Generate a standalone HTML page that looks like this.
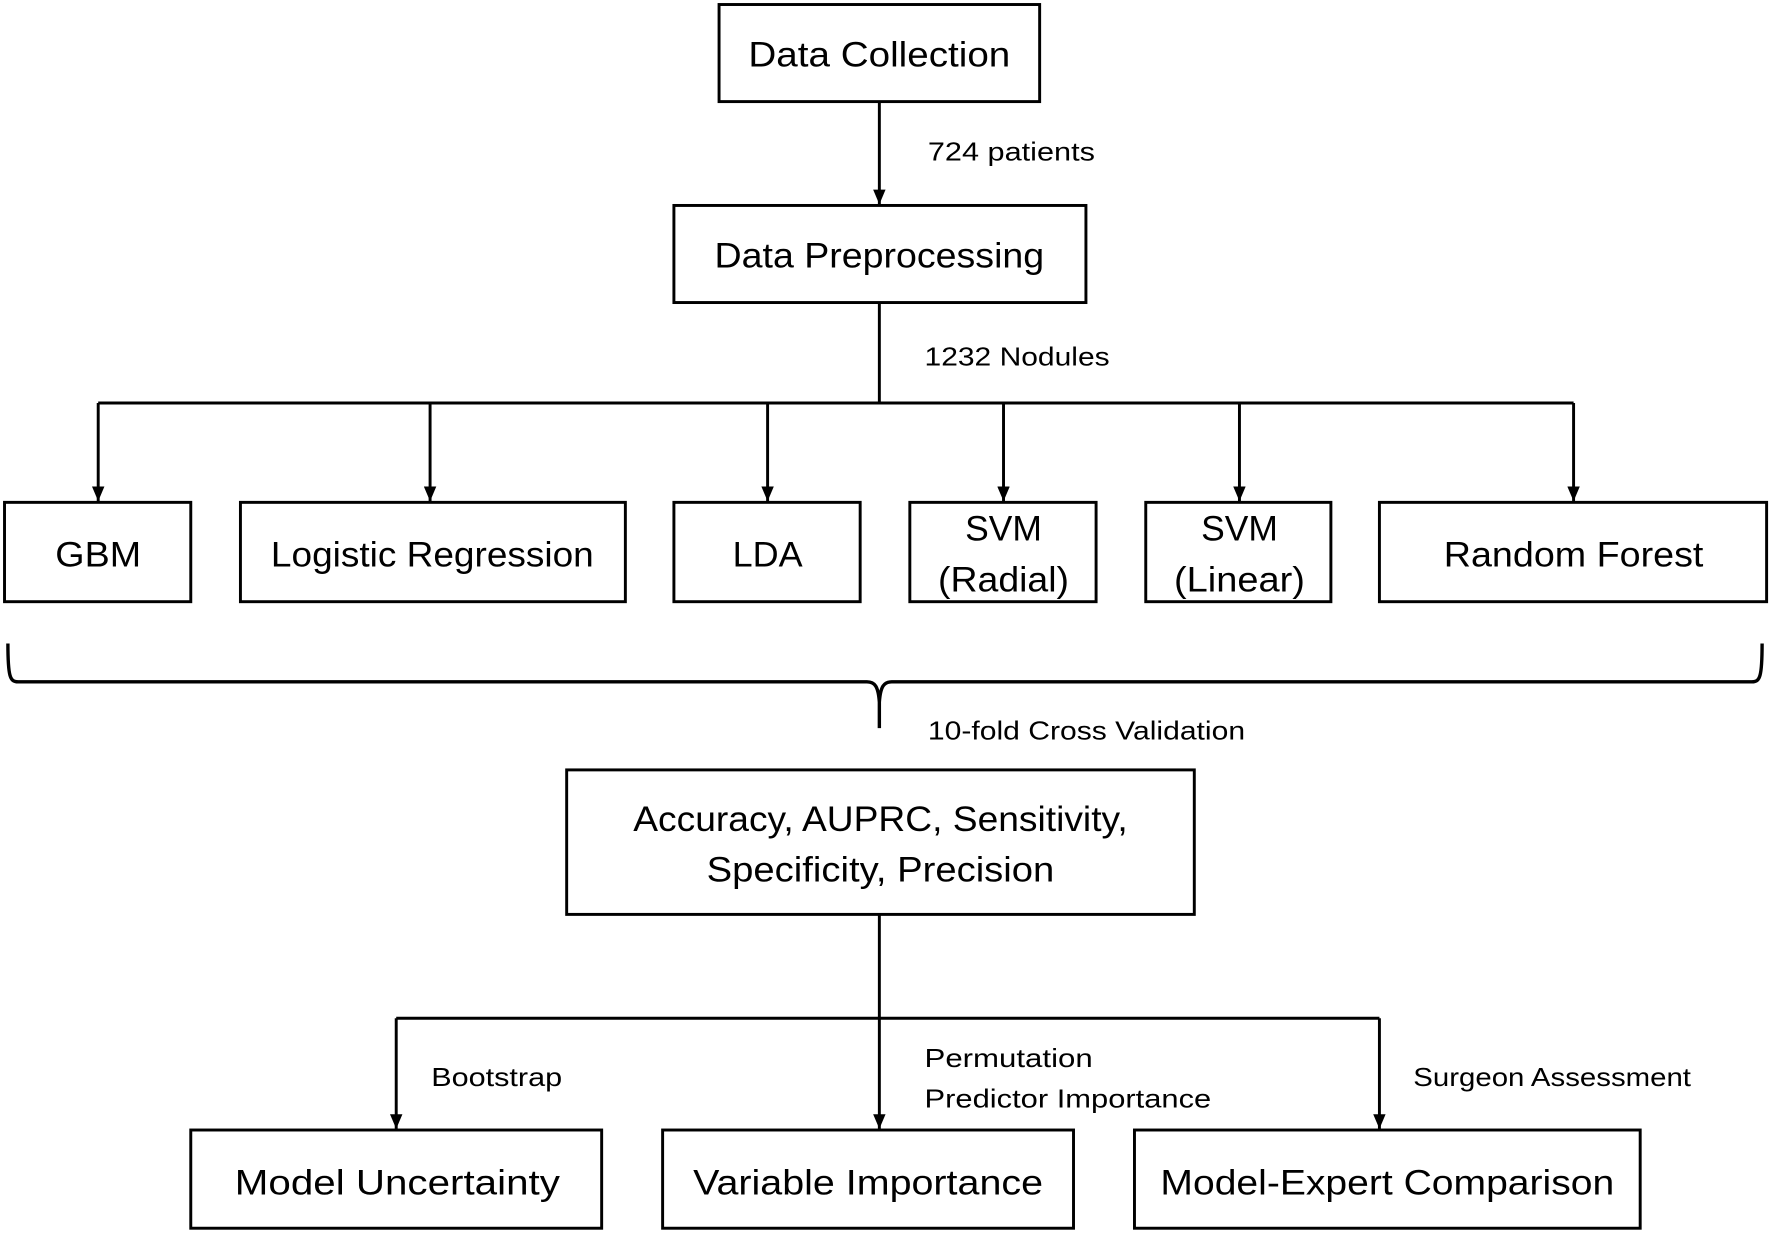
<!DOCTYPE html>
<html><head><meta charset="utf-8"><style>
html,body{margin:0;padding:0;background:#fff;width:1770px;height:1235px;overflow:hidden}
svg{display:block}
text{font-family:"Liberation Sans",sans-serif;fill:#000}
.b{font-size:31px}
.l{font-size:23px}
</style></head><body>
<svg width="1770" height="1235" viewBox="0 0 1568 1094" preserveAspectRatio="none" xmlns="http://www.w3.org/2000/svg">
<defs><marker id="a" markerWidth="13" markerHeight="11" refX="13" refY="5.5" orient="auto" markerUnits="userSpaceOnUse" viewBox="0 0 13 11"><path d="M0,0 L13,5.5 L0,11 z" fill="#000"/></marker></defs>
<g fill="none" stroke="#000" stroke-width="2.6">
<rect x="637" y="4" width="284" height="86"/>
<rect x="597" y="182" width="365" height="86"/>
<rect x="4" y="445" width="165" height="88"/>
<rect x="213" y="445" width="341" height="88"/>
<rect x="597" y="445" width="165" height="88"/>
<rect x="806" y="445" width="165" height="88"/>
<rect x="1015" y="445" width="164" height="88"/>
<rect x="1222" y="445" width="343" height="88"/>
<rect x="502" y="682" width="556" height="128"/>
<rect x="169" y="1001" width="364" height="87"/>
<rect x="587" y="1001" width="364" height="87"/>
<rect x="1005" y="1001" width="448" height="87"/>
<line x1="779" y1="90" x2="779" y2="181" marker-end="url(#a)"/>
<line x1="779" y1="268" x2="779" y2="357"/>
<line x1="87" y1="357" x2="1394" y2="357"/>
<line x1="87" y1="357" x2="87" y2="444" marker-end="url(#a)"/>
<line x1="381" y1="357" x2="381" y2="444" marker-end="url(#a)"/>
<line x1="680" y1="357" x2="680" y2="444" marker-end="url(#a)"/>
<line x1="889" y1="357" x2="889" y2="444" marker-end="url(#a)"/>
<line x1="1098" y1="357" x2="1098" y2="444" marker-end="url(#a)"/>
<line x1="1394" y1="357" x2="1394" y2="444" marker-end="url(#a)"/>
<path d="M7,570 C7,600 9,604 16,604 L768,604 C775,604 778,608 779,622 L779,645 M779,622 C780,608 783,604 790,604 L1552,604 C1559,604 1561,600 1561,570" stroke-width="3"/>
<line x1="779" y1="810" x2="779" y2="902"/>
<line x1="351" y1="902" x2="1222" y2="902"/>
<line x1="351" y1="902" x2="351" y2="1000" marker-end="url(#a)"/>
<line x1="779" y1="902" x2="779" y2="1000" marker-end="url(#a)"/>
<line x1="1222" y1="902" x2="1222" y2="1000" marker-end="url(#a)"/>
</g>
<g class="b" text-anchor="middle">
<text x="779" y="59" textLength="232" lengthAdjust="spacingAndGlyphs">Data Collection</text>
<text x="779" y="237" textLength="292" lengthAdjust="spacingAndGlyphs">Data Preprocessing</text>
<text x="87" y="502" textLength="76" lengthAdjust="spacingAndGlyphs">GBM</text>
<text x="383" y="502" textLength="286" lengthAdjust="spacingAndGlyphs">Logistic Regression</text>
<text x="680" y="502" textLength="62" lengthAdjust="spacingAndGlyphs">LDA</text>
<text x="889" y="479" textLength="68" lengthAdjust="spacingAndGlyphs">SVM</text>
<text x="889" y="524" textLength="116" lengthAdjust="spacingAndGlyphs">(Radial)</text>
<text x="1098" y="479" textLength="68" lengthAdjust="spacingAndGlyphs">SVM</text>
<text x="1098" y="524" textLength="116" lengthAdjust="spacingAndGlyphs">(Linear)</text>
<text x="1394" y="502" textLength="230" lengthAdjust="spacingAndGlyphs">Random Forest</text>
<text x="780" y="736" textLength="438" lengthAdjust="spacingAndGlyphs">Accuracy, AUPRC, Sensitivity,</text>
<text x="780" y="781" textLength="308" lengthAdjust="spacingAndGlyphs">Specificity, Precision</text>
<text x="352" y="1058" textLength="288" lengthAdjust="spacingAndGlyphs">Model Uncertainty</text>
<text x="769" y="1058" textLength="310" lengthAdjust="spacingAndGlyphs">Variable Importance</text>
<text x="1229" y="1058" textLength="402" lengthAdjust="spacingAndGlyphs">Model-Expert Comparison</text>
</g>
<g class="l">
<text x="822" y="142" textLength="148" lengthAdjust="spacingAndGlyphs">724 patients</text>
<text x="819" y="324" textLength="164" lengthAdjust="spacingAndGlyphs">1232 Nodules</text>
<text x="822" y="655" textLength="281" lengthAdjust="spacingAndGlyphs">10-fold Cross Validation</text>
<text x="382" y="962" textLength="116" lengthAdjust="spacingAndGlyphs">Bootstrap</text>
<text x="819" y="945" textLength="149" lengthAdjust="spacingAndGlyphs">Permutation</text>
<text x="819" y="981" textLength="254" lengthAdjust="spacingAndGlyphs">Predictor Importance</text>
<text x="1252" y="962" textLength="246" lengthAdjust="spacingAndGlyphs">Surgeon Assessment</text>
</g>
</svg>
</body></html>
